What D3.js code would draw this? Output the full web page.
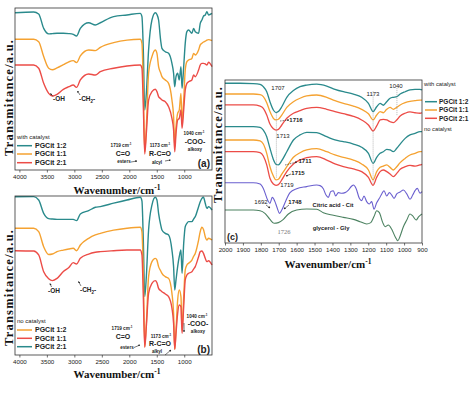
<!DOCTYPE html>
<html><head><meta charset="utf-8">
<script src="https://cdn.jsdelivr.net/npm/d3@7/dist/d3.min.js"></script>
<style>body{margin:0;background:#fff}</style>
</head><body>
<svg id="c" width="474" height="394" xmlns="http://www.w3.org/2000/svg"></svg>
<script>
// ---------- DATA ----------
const ticksAB = [4000, 3500, 3000, 2500, 2000, 1500, 1000];
const ticksC = [2000, 1900, 1800, 1700, 1600, 1500, 1400, 1300, 1200, 1100, 1000, 900];

// wavenumber grid for panels (a) and (b)
const wnAB = [4080,3740,3649,3558,3467,3400,3315,3200,3100,3020,2960,2891,2739,2618,2527,2285,2042,1800,1770,1745,1719,1690,1649,1588,1527,1497,1467,1430,1406,1345,1285,1224,1194,1173,1150,1120,1091,1060,1040,1010,982,952,921,861,830,800,739,709,679,650,618,588,558,495];

// (a) with catalyst
const aPG12 = [97.1,97.5,96.3,87.4,84.0,84.2,84.4,84.4,84.2,83.7,82.7,87.4,90.9,89.5,90.9,94.7,95.7,96.7,94.7,74.1,37.0,47.3,74.1,92.6,97.1,96.0,92.6,80.2,75.1,73.0,72.0,65.8,59.7,51.4,57.6,59.7,55.6,63.8,50.4,63.8,78.2,85.4,86.4,84.4,87.4,85.4,84.4,90.5,92.6,95.0,95.7,97.7,95.7,96.7];
const aPG11 = [80.7,80.7,79.2,70.0,62.8,61.9,63.0,65.0,66.8,67.5,66.3,70.4,74.1,73.7,75.7,78.6,80.2,80.7,78.2,51.4,11.3,26.7,59.7,70.0,74.1,72.0,63.8,60.0,57.6,55.6,53.5,43.2,32.9,14.4,26.7,35.0,37.0,47.3,28.8,43.2,61.7,66.9,67.9,68.9,72.0,71.0,74.1,77.2,78.2,79.0,79.5,80.2,80.5,79.8];
const aPG21 = [64.8,64.8,62.8,53.5,47.3,45.7,46.7,49.8,51.4,52.5,51.0,55.6,59.3,58.6,60.7,62.8,64.2,64.8,62.8,39.1,9.9,22.6,43.2,48.4,49.8,48.4,45.3,44.0,43.2,42.2,39.1,31.9,24.7,11.3,22.6,30.9,31.9,37.0,25.7,37.0,49.4,53.5,54.5,55.6,58.6,57.6,61.7,64.8,65.8,65.8,65.5,64.8,66.5,63.8];

// (b) no catalyst
const bPG21 = [99.5,99.6,97.5,89.1,85.8,85.5,85.3,85.3,85.3,85.3,84.5,88.7,90.8,92.9,93.3,95.5,97.5,99.2,96.9,72.3,36.7,49.3,78.6,94.3,99.2,97.5,89.1,82.0,78.6,76.5,75.5,66.0,55.6,40.9,47.2,55.6,61.8,66.0,51.4,70.2,80.7,82.8,83.9,83.9,85.5,87.0,93.3,96.4,98.5,99.2,95.4,92.2,93.3,91.2];
const bPG12 = [79.7,79.7,77.6,68.1,63.2,63.5,65.0,66.0,66.7,67.1,65.6,69.2,73.4,75.5,76.5,78.5,79.7,80.3,77.6,51.4,5.2,19.9,49.3,58.7,60.8,59.7,55.6,53.0,51.4,49.3,48.2,38.8,26.2,3.6,15.7,34.6,40.9,36.7,15.7,36.7,53.5,56.6,57.7,59.7,62.0,63.9,72.3,77.6,80.3,79.0,74.4,72.3,73.4,72.3];
const bPG11 = [65.6,65.4,62.9,52.4,48.0,46.8,48.2,52.5,55.0,58.1,57.2,60.8,63.5,64.6,65.0,65.6,66.0,66.0,62.9,36.7,4.8,17.8,38.8,45.1,46.8,45.5,41.9,40.5,39.8,38.4,36.7,29.4,19.9,3.6,13.6,26.2,31.4,30.4,13.6,30.4,47.2,50.3,51.4,52.4,54.0,55.6,61.8,65.0,65.4,63.9,60.8,58.7,59.3,56.6];

// (c) zoom 2000-900
const wnC = [2000,1916,1842,1804,1786,1767,1749,1730,1715,1702,1683,1655,1618,1581,1544,1488,1432,1386,1339,1283,1237,1199,1173,1153,1134,1116,1097,1078,1060,1041,1022,994,967,939,911,900];
const cCat12 = [98.0,98.0,97.8,97.3,95.9,92.8,86.7,81.6,80.0,80.6,83.6,89.4,93.5,95.9,96.9,97.5,96.3,94.3,92.8,91.4,89.4,85.7,80.6,83.6,85.7,84.5,86.7,88.8,89.4,89.8,91.4,92.8,93.9,94.3,94.3,93.9];
const cCat11 = [91.4,91.4,91.4,91.0,89.8,86.1,80.6,76.5,75.5,75.9,78.5,83.2,86.7,88.8,90.2,90.8,89.4,87.3,85.7,84.0,82.0,79.3,75.5,78.5,80.6,79.9,82.0,83.2,82.0,83.2,84.7,86.1,86.9,87.3,87.7,87.7];
const cCat21 = [84.7,84.7,84.7,84.0,82.6,78.5,73.0,70.1,69.3,69.7,72.4,76.5,79.6,81.2,82.6,83.2,82.0,80.6,79.3,77.7,75.5,72.4,68.7,71.8,75.5,75.9,75.5,74.4,73.8,75.5,77.9,79.6,80.4,79.9,79.6,79.9];
const cNo12 = [71.4,71.4,71.4,71.0,69.3,65.2,58.1,51.3,48.3,47.9,50.5,56.0,63.2,66.3,67.9,67.7,65.2,63.2,62.2,60.7,58.7,55.0,48.9,52.6,55.0,56.0,57.5,57.1,56.0,58.1,60.7,64.2,66.3,67.3,68.3,68.3];
const cNo11 = [63.2,63.2,63.2,62.6,60.7,55.0,46.8,41.1,38.7,39.1,42.3,46.8,52.6,55.4,57.1,57.9,56.0,54.0,52.6,50.9,48.5,44.8,38.7,43.8,46.4,47.2,47.9,46.4,44.8,46.8,49.3,51.9,54.0,55.0,56.0,56.0];
const cNo21 = [56.0,56.0,56.0,55.4,53.4,47.9,39.7,36.2,35.4,35.8,38.7,43.8,48.5,50.9,52.4,53.0,50.9,48.5,46.8,45.4,43.8,40.3,35.4,40.3,43.8,44.8,43.8,42.3,40.7,42.7,45.2,46.8,47.6,47.2,47.9,48.3];
const wnCit = [2000,1916,1842,1804,1786,1762,1749,1736,1721,1708,1696,1683,1665,1637,1600,1544,1488,1469,1451,1436,1423,1410,1395,1382,1367,1348,1330,1311,1292,1283,1268,1250,1237,1224,1209,1194,1181,1168,1153,1138,1125,1112,1097,1082,1069,1056,1041,1022,1004,985,967,952,939,926,911,900];
const citVals = [37.0,37.0,37.0,36.2,33.5,26.4,24.3,28.0,25.4,21.3,18.2,20.2,24.7,30.9,33.3,34.6,35.6,35.2,33.3,29.4,28.0,31.5,32.1,28.8,30.9,30.5,30.9,32.5,35.0,35.6,33.5,27.4,26.0,28.8,25.4,23.9,25.4,20.7,24.7,27.4,30.1,32.1,28.8,30.9,29.4,27.4,30.1,31.3,32.5,30.1,26.8,29.4,32.1,33.5,30.5,31.5];
const wnGly = [2000,1916,1842,1804,1777,1749,1726,1702,1674,1646,1600,1544,1488,1451,1395,1339,1283,1246,1209,1186,1168,1153,1138,1119,1106,1088,1069,1050,1035,1022,1004,985,967,952,933,918,900];
const glyVals = [20.2,20.2,20.2,19.8,18.2,14.5,12.1,12.5,14.5,17.8,20.2,20.9,20.7,18.6,17.0,15.7,14.5,13.1,11.7,12.5,16.2,19.8,18.6,12.5,10.0,11.0,8.4,3.9,1.4,4.3,10.0,14.1,17.8,16.6,14.1,16.2,17.8];

const legendNames = ["PGCit 1:2", "PGCit 1:1", "PGCit 2:1"];

// ---------- STYLE ----------
const TEAL = "#2a8a8c", ORANGE = "#f5a231", RED = "#ec4c47", PURPLE = "#6a5fcf", GREEN = "#4c8261";
const SANS = "'Liberation Sans', Arial, sans-serif";
const SERIF = "'Liberation Serif', 'Times New Roman', serif";

const svg = d3.select("#c");
const defs = svg.append("defs");
defs.append("marker").attr("id", "ah").attr("viewBox", "0 0 6 6").attr("refX", 5).attr("refY", 3)
  .attr("markerWidth", 3.5).attr("markerHeight", 3.5).attr("orient", "auto")
  .append("path").attr("d", "M0,0L6,3L0,6Z").attr("fill", "#222");

function panel(p) {
  const x = d3.scaleLinear().domain(p.xdom).range([p.l, p.r]);
  const y = d3.scaleLinear().domain([0, 100]).range([p.b, p.t]);
  const g = svg.append("g");
  const ax = g.append("g").attr("transform", `translate(0,${p.b})`)
    .call(d3.axisBottom(x).tickValues(p.ticks).tickSize(2.5).tickPadding(2).tickFormat(d3.format("d")));
  ax.select(".domain").remove();
  ax.selectAll("text").attr("font-size", 6.2).attr("font-family", SANS).attr("fill", "#222");
  ax.selectAll("line").attr("stroke", "#333").attr("stroke-width", 0.7);
  const line = d3.line().x(d => x(d[0])).y(d => y(d[1])).curve(d3.curveMonotoneX);
  p.series.forEach(s => {
    g.append("path").datum(d3.zip(s.w, s.v)).attr("d", line).attr("fill", "none")
      .attr("stroke", s.color).attr("stroke-width", s.sw || p.sw).attr("stroke-linejoin", "round");
  });
  g.append("rect").attr("x", p.l).attr("y", p.t).attr("width", p.r - p.l).attr("height", p.b - p.t)
    .attr("fill", "none").attr("stroke", "#333").attr("stroke-width", 0.8);
  // x title
  const tt = g.append("text").attr("x", p.titleX).attr("y", p.titleY).attr("text-anchor", "middle")
    .attr("font-family", SERIF).attr("font-weight", "bold").attr("font-size", 11).attr("fill", "#111");
  tt.append("tspan").text("Wavenumber/cm");
  tt.append("tspan").attr("font-size", 7.5).attr("dy", -4).text("-1");
  // y title
  g.append("text").attr("transform", `translate(${p.ylX},${p.ylY}) rotate(-90)`).attr("text-anchor", "middle")
    .attr("font-family", SERIF).attr("font-weight", "bold").attr("font-size", 12.5).attr("fill", "#111")
    .attr("textLength", 116).attr("lengthAdjust", "spacing")
    .text("Transmitance/a.u.");
  return { x, y, g };
}

function txt(g, x, y, s, o = {}) {
  const t = g.append("text").attr("x", x).attr("y", y).attr("font-family", o.family || SANS)
    .attr("font-size", o.size || 6).attr("font-weight", o.bold ? "bold" : "normal")
    .attr("text-anchor", o.anchor || "start").attr("fill", o.fill || "#222");
  if (o.sup) { t.append("tspan").text(s); t.append("tspan").attr("font-size", (o.size || 6) * 0.65).attr("dy", -2).text(o.sup); }
  else t.text(s);
  return t;
}
function arrow(g, x1, y1, x2, y2, dash) {
  g.append("line").attr("x1", x1).attr("y1", y1).attr("x2", x2).attr("y2", y2)
    .attr("stroke", "#222").attr("stroke-width", 0.6).attr("marker-end", "url(#ah)")
    .attr("stroke-dasharray", dash ? "1.5,1" : null);
}

// ---------- PANEL (a) ----------
const A = panel({
  l: 15, r: 212, t: 8, b: 170, xdom: [4080, 495], ticks: ticksAB, sw: 1.4,
  titleX: 117, titleY: 194, ylX: 13, ylY: 98,
  series: [{ w: wnAB, v: aPG12, color: TEAL }, { w: wnAB, v: aPG11, color: ORANGE }, { w: wnAB, v: aPG21, color: RED }]
});
// ---------- PANEL (b) ----------
const B = panel({
  l: 15, r: 212, t: 196, b: 355, xdom: [4080, 495], ticks: ticksAB, sw: 1.4,
  titleX: 117, titleY: 378, ylX: 13, ylY: 288,
  series: [{ w: wnAB, v: bPG21, color: TEAL }, { w: wnAB, v: bPG12, color: ORANGE }, { w: wnAB, v: bPG11, color: RED }]
});
// ---------- PANEL (c) ----------
const C = panel({
  l: 225, r: 422, t: 80, b: 243, xdom: [2000, 900], ticks: ticksC, sw: 1.3,
  titleX: 328, titleY: 268, ylX: 222, ylY: 145,
  series: [
    { w: wnC, v: cCat12, color: TEAL }, { w: wnC, v: cCat11, color: ORANGE }, { w: wnC, v: cCat21, color: RED },
    { w: wnC, v: cNo12, color: TEAL }, { w: wnC, v: cNo11, color: ORANGE }, { w: wnC, v: cNo21, color: RED },
    { w: wnCit, v: citVals, color: PURPLE, sw: 1.1 }, { w: wnGly, v: glyVals, color: GREEN, sw: 1.1 }
  ]
});

// ---------- Annotations (a) ----------
function legendBlock(g, x0, x1, tx, ys, colors, names, size) {
  ys.forEach((yy, i) => {
    g.append("line").attr("x1", x0).attr("x2", x1).attr("y1", yy).attr("y2", yy).attr("stroke", colors[i]).attr("stroke-width", 1.5);
    txt(g, tx, yy + 2.4, names[i], { bold: true, size: size });
  });
}
{
  const g = A.g;
  txt(g, 17, 139, "with catalyst", { size: 6 });
  legendBlock(g, 17, 32, 35, [145.7, 154, 162.7], [TEAL, ORANGE, RED], legendNames, 7);
  txt(g, 53, 101, "-OH", { bold: true, size: 6.5 });
  arrow(g, 53, 96.5, 50.5, 93.5);
  const ch = txt(g, 79, 101, "-CH", { bold: true, size: 6.5 });
  ch.append("tspan").attr("font-size", 4.5).attr("dy", 1.5).text("2");
  ch.append("tspan").attr("dy", -1.5).text("-");
  arrow(g, 80, 95, 77.5, 91);
  txt(g, 121, 147, "1719 cm", { bold: true, size: 4.6, anchor: "middle", sup: "-1" });
  txt(g, 123, 156, "C=O", { bold: true, size: 7, anchor: "middle" });
  txt(g, 124, 163, "esters", { bold: true, size: 4.6, anchor: "middle" });
  arrow(g, 131, 162, 137, 161);
  txt(g, 160, 147, "1173 cm", { bold: true, size: 4.6, anchor: "middle", sup: "-1" });
  txt(g, 160, 156, "R-C=O", { bold: true, size: 7, anchor: "middle" });
  txt(g, 157, 163.5, "alcyl", { bold: true, size: 4.6, anchor: "middle" });
  arrow(g, 165, 161, 170.5, 160);
  txt(g, 194, 135, "1040 cm", { bold: true, size: 4.6, anchor: "middle", sup: "-1" });
  txt(g, 195, 144, "-COO-", { bold: true, size: 7, anchor: "middle" });
  txt(g, 195, 150.5, "alkoxy", { bold: true, size: 4.6, anchor: "middle" });
  txt(g, 210, 167, "(a)", { bold: true, size: 10, anchor: "end" });
}
// ---------- Annotations (b) ----------
{
  const g = B.g;
  txt(g, 17, 323, "no catalyst", { size: 6 });
  legendBlock(g, 17, 32, 35, [330, 338.3, 346.7], [ORANGE, RED, TEAL], legendNames, 7);
  txt(g, 48, 293, "-OH", { bold: true, size: 6.5 });
  arrow(g, 51.5, 287, 50, 283.5);
  const ch = txt(g, 80, 292, "-CH", { bold: true, size: 6.5 });
  ch.append("tspan").attr("font-size", 4.5).attr("dy", 1.5).text("2");
  ch.append("tspan").attr("dy", -1.5).text("-");
  arrow(g, 81, 286, 78.5, 281.5);
  txt(g, 122, 330, "1719 cm", { bold: true, size: 4.6, anchor: "middle", sup: "-1" });
  txt(g, 123, 339, "C=O", { bold: true, size: 7, anchor: "middle" });
  txt(g, 127, 349, "esters", { bold: true, size: 4.6, anchor: "middle" });
  arrow(g, 134, 347.5, 140, 345);
  txt(g, 161, 338, "1173 cm", { bold: true, size: 4.6, anchor: "middle", sup: "-1" });
  txt(g, 160, 346, "R-C=O", { bold: true, size: 7, anchor: "middle" });
  txt(g, 157, 353, "alkyl", { bold: true, size: 4.6, anchor: "middle" });
  arrow(g, 165, 355, 171, 350);
  txt(g, 197, 318, "1040 cm", { bold: true, size: 4.6, anchor: "middle", sup: "-1" });
  txt(g, 198, 326, "-COO-", { bold: true, size: 7, anchor: "middle" });
  txt(g, 198, 333, "alkoxy", { bold: true, size: 4.6, anchor: "middle" });
  arrow(g, 184, 323, 184, 332);
  txt(g, 210, 353, "(b)", { bold: true, size: 10, anchor: "end" });
}
// ---------- Annotations (c) ----------
{
  const g = C.g, x = C.x, y = C.y;
  const guides = [[1713, 80, 40], [1173, 93, 36], [1040, 95, 78]];
  guides.forEach(([w, v0, v1]) => {
    g.append("line").attr("x1", x(w)).attr("x2", x(w)).attr("y1", y(v0)).attr("y2", y(v1))
      .attr("stroke", "#888").attr("stroke-width", 0.6).attr("stroke-dasharray", "1,1");
  });
  txt(g, 278, 90, "1707", { size: 6, anchor: "middle" });
  txt(g, 296, 122, "1716", { bold: true, size: 6, anchor: "middle" });
  arrow(g, 280, 121, 289, 120, true);
  txt(g, 283, 138, "1713", { size: 6, anchor: "middle" });
  txt(g, 373, 96, "1173", { size: 6, anchor: "middle" });
  txt(g, 396, 88, "1040", { size: 6, anchor: "middle" });
  txt(g, 305, 163, "1711", { bold: true, size: 6, anchor: "middle" });
  arrow(g, 285, 165, 297, 162, true);
  txt(g, 298, 175, "1715", { bold: true, size: 6, anchor: "middle" });
  arrow(g, 291, 174, 286, 176);
  txt(g, 287, 187, "1719", { size: 6, anchor: "middle" });
  txt(g, 261, 204, "1692", { size: 6, anchor: "middle" });
  arrow(g, 266, 205, 270, 208);
  txt(g, 295, 204, "1748", { bold: true, size: 6, anchor: "middle" });
  arrow(g, 289, 205, 284, 209);
  txt(g, 333, 207, "Citric acid - Cit", { bold: true, size: 5.8, anchor: "middle" });
  txt(g, 331, 230, "glycerol - Gly", { bold: true, size: 5.8, anchor: "middle" });
  txt(g, 284, 234, "1726", { size: 6.5, anchor: "middle", family: SERIF, fill: "#777" });
  txt(g, 227, 240, "(c)", { bold: true, size: 9, anchor: "start" });
  txt(g, 424, 86, "with catalyst", { size: 5.8 });
  legendBlock(g, 425, 437, 439, [101.7, 110, 118.3], [TEAL, ORANGE, RED], legendNames, 6.5);
  txt(g, 424, 131, "no catalyst", { size: 5.8 });
}
</script>
</body></html>
